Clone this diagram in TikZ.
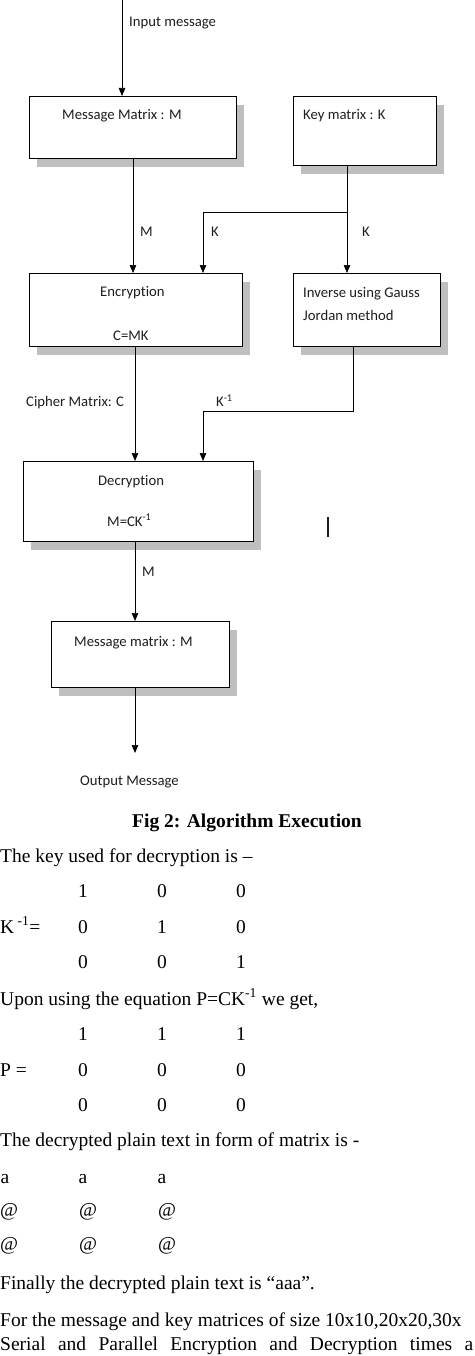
\documentclass[tikz,border=0pt]{standalone}
\usepackage{fontspec}
\setmainfont{Liberation Serif}
\newfontfamily\diagfont[Ligatures={NoCommon}]{Carlito}
\usetikzlibrary{arrows.meta,shadows}
\definecolor{shadowgray}{HTML}{BFBFBF}
\definecolor{inkgray}{HTML}{1E1E1E}
\begin{document}
\begin{tikzpicture}[x=1pt,y=-1pt,
  boxnode/.style={draw, line width=0.9pt, fill=white, inner sep=0pt, anchor=north west,
    drop shadow={shadow xshift=8pt, shadow yshift=-9pt, fill=shadowgray, opacity=1}},
  dtext/.style={font=\diagfont\fontsize{14.7}{16}\selectfont, text=inkgray, inner sep=0pt, anchor=base west},
  arr/.style={line width=0.7pt, -{Triangle[length=8pt,width=6.5pt]}},
  conn/.style={line width=0.7pt},
  body/.style={font=\fontsize{19.5}{23}\selectfont, inner sep=0pt, anchor=base west},
  cell/.style={font=\fontsize{19.5}{23}\selectfont, inner sep=0pt, anchor=base},
  capt/.style={font=\bfseries\fontsize{19.5}{23}\selectfont, inner sep=0pt, anchor=base}]
\path[use as bounding box, clip] (0,0) rectangle (474,1356);
% boxes
\node[boxnode, minimum width=207pt, minimum height=62pt] (mm) at (29,96) {};
\node[boxnode, minimum width=143pt, minimum height=69pt] (key) at (293,96) {};
\node[boxnode, minimum width=213pt, minimum height=73pt] (enc) at (29,273) {};
\node[boxnode, minimum width=147pt, minimum height=73pt] (inv) at (293,273) {};
\node[boxnode, minimum width=230pt, minimum height=80pt] (dec) at (23,461) {};
\node[boxnode, minimum width=178pt, minimum height=66pt] (out) at (51,621) {};
% box texts
\node[dtext] (tmm) at (62,120) {Message Matrix : M};
\node[dtext] (tkey) at (303,120) {Key matrix : K};
\node[dtext] (tenc) at (100,296) {Encryption};
\node[dtext] (tenc2) at (113,340) {C=MK};
\node[dtext] (tinv) at (303,297) {Inverse using Gauss};
\node[dtext] (tinv2) at (303,320) {Jordan method};
\node[dtext] (tdec) at (98,485) {Decryption};
\node[dtext] (tdec2) at (107,526) {M=CK\textsuperscript{-1}};
\node[dtext] (tout) at (74,646) {Message matrix : M};
% connector coordinates
\coordinate (inTop) at (122,0);
\coordinate (xM) at (133,0);
\coordinate (xK) at (347,0);
\coordinate (jK) at (347,212);
\coordinate (xKe) at (203,0);
\coordinate (xC) at (135,0);
\coordinate (xI) at (353,0);
\coordinate (kb) at (203,411);
\coordinate (outEnd) at (135,753);
% connectors
\draw[arr] (inTop) -- (inTop |- mm.north);
\draw[arr] (mm.south -| xM) -- (enc.north -| xM);
\draw[arr] (key.south -| xK) -- (inv.north -| xK);
\draw[arr] (jK) -| (enc.north -| xKe);
\draw[arr] (enc.south -| xC) -- (dec.north -| xC);
\draw[conn] (inv.south -| xI) |- (kb);
\draw[arr] (kb) -- (dec.north -| kb);
\draw[arr] (dec.south -| xC) -- (out.north -| xC);
\draw[arr] (out.south -| xC) -- (outEnd);
% connector labels
\node[dtext] (lin) at (129,27) {Input message};
\node[dtext] (lm1) at (140,236.5) {M};
\node[dtext] (lk1) at (211,236.5) {K};
\node[dtext] (lk2) at (362,236.5) {K};
\node[dtext] (lc) at (26,406.5) {Cipher Matrix: C};
\node[dtext] (lki) at (216,406.5) {K\textsuperscript{-1}};
\node[dtext] (lm2) at (142,576) {M};
\node[dtext] (lout) at (80,785) {Output Message};
% cursor mark
\draw[line width=2pt, inkgray] (328,517) -- (328,537);
% caption
\node[capt] (cap) at (247,827) {Fig 2: Algorithm Execution};
% body text
\node[body] (b1) at (0,862) {The key used for decryption is --};
\node[body] (kinv) at (0,933) {K\,\textsuperscript{-1}=};
\node[cell] at (83,897) {1}; \node[cell] at (162,897) {0}; \node[cell] at (241,897) {0};
\node[cell] at (83,933) {0}; \node[cell] at (162,933) {1}; \node[cell] at (241,933) {0};
\node[cell] at (83,968) {0}; \node[cell] at (162,968) {0}; \node[cell] at (241,968) {1};
\node[body] (b2) at (0,1005) {Upon using the equation P=CK\textsuperscript{-1} we get,};
\node[body] (peq) at (0,1076) {P =};
\node[cell] at (83,1040) {1}; \node[cell] at (162,1040) {1}; \node[cell] at (241,1040) {1};
\node[cell] at (83,1076) {0}; \node[cell] at (162,1076) {0}; \node[cell] at (241,1076) {0};
\node[cell] at (83,1111) {0}; \node[cell] at (162,1111) {0}; \node[cell] at (241,1111) {0};
\node[body] (b3) at (0,1146) {The decrypted plain text in form of matrix is -};
\node[cell] at (5,1183) {a}; \node[cell] at (83,1183) {a}; \node[cell] at (162,1183) {a};
\node[cell] at (9,1216) {@}; \node[cell] at (88,1216) {@}; \node[cell] at (167,1216) {@};
\node[cell] at (9,1250) {@}; \node[cell] at (88,1250) {@}; \node[cell] at (167,1250) {@};
\node[body] (b4) at (0,1289) {Finally the decrypted plain text is “aaa”.};
\node[body] (b5) at (0,1326.5) {For the message and key matrices of size 10x10,20x20,30x};
\node[body] (b6) at (0,1350) {\makebox[473pt][s]{Serial and Parallel Encryption and Decryption times a}};
\end{tikzpicture}
\end{document}
